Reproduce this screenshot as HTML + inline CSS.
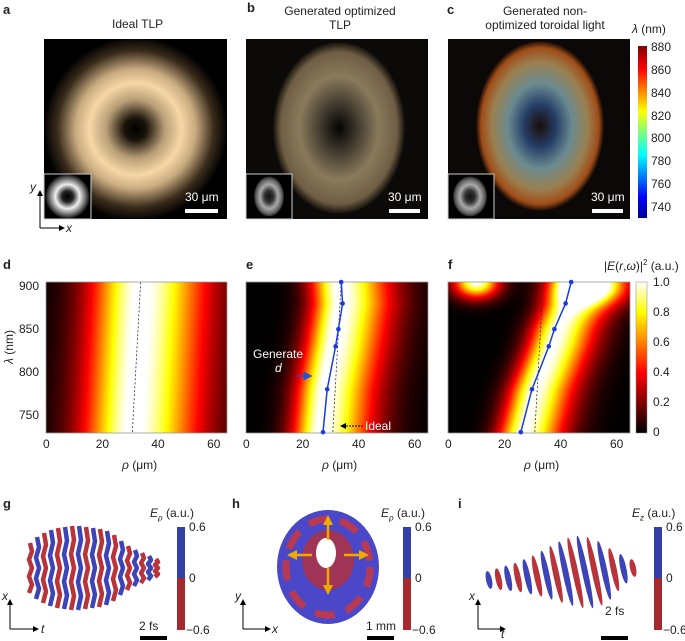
<!DOCTYPE html>
<html><head><meta charset="utf-8">
<style>
body{margin:0;background:#fff;}
#root{position:relative;width:685px;height:641px;overflow:hidden;font-family:"Liberation Sans",sans-serif;color:#222;}
.t{position:absolute;font-size:12px;white-space:nowrap;}
.pl{position:absolute;font-size:13px;font-weight:bold;}
canvas{position:absolute;}
</style></head><body>
<div id="root">
<svg width="685" height="641" style="position:absolute;left:0;top:0">
<defs>
<radialGradient id="ga" cx="135.5" cy="129" r="92" gradientUnits="userSpaceOnUse">
<stop offset="0" stop-color="#000"/><stop offset="0.12" stop-color="#1a1309"/><stop offset="0.32" stop-color="#b99f77"/><stop offset="0.5" stop-color="#f6d7a6"/><stop offset="0.65" stop-color="#c9ab80"/><stop offset="0.85" stop-color="#3a2c1b"/><stop offset="1" stop-color="#000"/></radialGradient>
<radialGradient id="gb"><stop offset="0" stop-color="#050403"/><stop offset="0.25" stop-color="#3a342a"/><stop offset="0.6" stop-color="#8a7a5c"/><stop offset="0.88" stop-color="#6f5e44"/><stop offset="1" stop-color="#120f0a"/></radialGradient>
<radialGradient id="gc"><stop offset="0" stop-color="#1a0d08"/><stop offset="0.25" stop-color="#253d66"/><stop offset="0.5" stop-color="#6a8a90"/><stop offset="0.75" stop-color="#9a8050"/><stop offset="0.92" stop-color="#a04c18"/><stop offset="1" stop-color="#150b05"/></radialGradient>
<radialGradient id="gi"><stop offset="0" stop-color="#000"/><stop offset="0.25" stop-color="#222"/><stop offset="0.55" stop-color="#eee"/><stop offset="0.8" stop-color="#777"/><stop offset="1" stop-color="#111"/></radialGradient>
<radialGradient id="gi2"><stop offset="0" stop-color="#111"/><stop offset="0.3" stop-color="#333"/><stop offset="0.6" stop-color="#aaa"/><stop offset="0.85" stop-color="#666"/><stop offset="1" stop-color="#222"/></radialGradient>
<linearGradient id="jet" x1="0" y1="1" x2="0" y2="0">
<stop offset="0" stop-color="#00008f"/><stop offset="0.12" stop-color="#0000ff"/><stop offset="0.37" stop-color="#00ffff"/><stop offset="0.5" stop-color="#7fff7f"/><stop offset="0.62" stop-color="#ffff00"/><stop offset="0.87" stop-color="#ff0000"/><stop offset="1" stop-color="#800000"/></linearGradient>
<linearGradient id="hot" x1="0" y1="1" x2="0" y2="0">
<stop offset="0" stop-color="#000"/><stop offset="0.4" stop-color="#ff0000"/><stop offset="0.8" stop-color="#ffff00"/><stop offset="1" stop-color="#fff"/></linearGradient>
<marker id="arr" markerWidth="6" markerHeight="6" refX="5" refY="3" orient="auto"><path d="M0,0 L6,3 L0,6 z" fill="#000"/></marker>
<marker id="arrb" markerWidth="6" markerHeight="6" refX="5" refY="3" orient="auto"><path d="M0,0 L6,3 L0,6 z" fill="#2a4fd0"/></marker>
<marker id="arry" markerWidth="4" markerHeight="4" refX="2" refY="2" orient="auto"><path d="M0,0 L4,2 L0,4 z" fill="#f2a900"/></marker>
</defs>
<rect x="44" y="39" width="183" height="180" fill="url(#ga)"/>
<rect x="44" y="174" width="47" height="45" fill="#000" stroke="#ccc"/>
<ellipse cx="67.5" cy="196.5" rx="22" ry="22" fill="url(#gi)"/>
<rect x="185" y="209" width="33" height="4" fill="#fff"/>
<line x1="40" y1="228" x2="40" y2="191" stroke="#000" marker-end="url(#arr)"/>
<line x1="40" y1="228" x2="64" y2="228" stroke="#000" marker-end="url(#arr)"/>
<rect x="246" y="39" width="182" height="180" fill="#0b0a08"/>
<ellipse cx="339" cy="128" rx="66" ry="86" fill="url(#gb)"/>
<rect x="246" y="174" width="46" height="45" fill="#000" stroke="#ccc"/>
<ellipse cx="269" cy="196.5" rx="15" ry="20" fill="url(#gi2)"/>
<rect x="389" y="209" width="31" height="4" fill="#fff"/>
<rect x="448" y="39" width="182" height="180" fill="#0b0807"/>
<ellipse cx="540" cy="126" rx="64" ry="85" fill="url(#gc)"/>
<rect x="448" y="174" width="46" height="45" fill="#000" stroke="#ccc"/>
<ellipse cx="470" cy="196.5" rx="17" ry="20" fill="url(#gi2)"/>
<rect x="592" y="209" width="31" height="4" fill="#fff"/>
<rect x="638" y="46" width="9" height="172" fill="url(#jet)"/>
<rect x="636" y="282" width="11" height="151" fill="url(#hot)" stroke="#888" stroke-width="0.5"/>
<g id="gpanel"></g>
<g id="ipanel"></g>
<g>
<ellipse cx="328" cy="567" rx="51" ry="57" fill="#4a48c8"/>
<ellipse cx="328" cy="567" rx="42" ry="48" fill="none" stroke="#b83a52" stroke-width="7" stroke-dasharray="20 12"/>
<ellipse cx="328" cy="560" rx="26" ry="30" fill="#a8324a" opacity="0.9"/>
<ellipse cx="326" cy="553" rx="10" ry="15" fill="#fff"/>
<line x1="328" y1="540" x2="328" y2="520" stroke="#f2a900" stroke-width="2.5" marker-end="url(#arry)"/>
<line x1="328" y1="568" x2="328" y2="590" stroke="#f2a900" stroke-width="2.5" marker-end="url(#arry)"/>
<line x1="312" y1="555" x2="292" y2="555" stroke="#f2a900" stroke-width="2.5" marker-end="url(#arry)"/>
<line x1="344" y1="555" x2="364" y2="555" stroke="#f2a900" stroke-width="2.5" marker-end="url(#arry)"/>
</g>
<g>
<rect x="177" y="527" width="8" height="51" fill="#3340a8"/><rect x="177" y="578" width="8" height="52" fill="#a52a30"/>
<rect x="403" y="527" width="8" height="51" fill="#3340a8"/><rect x="403" y="578" width="8" height="52" fill="#a52a30"/>
<rect x="654" y="527" width="8" height="51" fill="#3340a8"/><rect x="654" y="578" width="8" height="52" fill="#a52a30"/>
</g>
<rect x="140" y="636" width="27" height="4" fill="#000"/>
<rect x="367" y="636" width="27" height="4" fill="#000"/>
<rect x="601" y="636" width="27" height="4" fill="#000"/>
<line x1="10" y1="629" x2="10" y2="600" stroke="#000" marker-end="url(#arr)"/><line x1="10" y1="629" x2="38" y2="629" stroke="#000" marker-end="url(#arr)"/>
<line x1="243" y1="629" x2="243" y2="600" stroke="#000" marker-end="url(#arr)"/><line x1="243" y1="629" x2="270" y2="629" stroke="#000" marker-end="url(#arr)"/>
<line x1="478" y1="629" x2="478" y2="600" stroke="#000" marker-end="url(#arr)"/><line x1="478" y1="629" x2="505" y2="629" stroke="#000" marker-end="url(#arr)"/>
</svg>
<canvas id="cd" width="181" height="151" style="left:46px;top:282px"></canvas>
<canvas id="ce" width="182" height="151" style="left:246px;top:282px"></canvas>
<canvas id="cf" width="182" height="151" style="left:448px;top:282px"></canvas>
<svg id="ov" width="685" height="641" style="position:absolute;left:0;top:0"></svg>

<div class="pl" style="left:3px;top:2px">a</div>
<div class="pl" style="left:247px;top:0px">b</div>
<div class="pl" style="left:447px;top:2px">c</div>
<div class="t" style="left:112px;top:17px">Ideal TLP</div>
<div class="t" style="left:280px;top:4px;text-align:center;width:120px">Generated optimized<br>TLP</div>
<div class="t" style="left:475px;top:4px;text-align:center;width:140px">Generated non-<br>optimized toroidal light</div>
<div class="t" style="left:632px;top:22px"><i>λ</i> (nm)</div>
<div class="t" style="left:185px;top:190px;color:#fff">30 μm</div>
<div class="t" style="left:388px;top:190px;color:#fff">30 μm</div>
<div class="t" style="left:591px;top:190px;color:#fff">30 μm</div>
<div class="t" style="left:30px;top:180px;font-style:italic">y</div>
<div class="t" style="left:66px;top:221px;font-style:italic">x</div>

<div class="pl" style="left:3px;top:257px">d</div>
<div class="pl" style="left:246px;top:257px">e</div>
<div class="pl" style="left:448px;top:257px">f</div>
<div class="t" style="left:604px;top:258px">|<i>E</i>(<i>r</i>,<i>ω</i>)|<sup style="font-size:8px">2</sup> (a.u.)</div>
<div class="t" style="left:-8px;top:340px;transform:rotate(-90deg)"><i>λ</i> (nm)</div>
<div class="t" style="left:122px;top:458px"><i>ρ</i> (μm)</div>
<div class="t" style="left:322px;top:458px"><i>ρ</i> (μm)</div>
<div class="t" style="left:524px;top:458px"><i>ρ</i> (μm)</div>
<div class="t" style="left:253px;top:347px;color:#fff">Generate<br><i style="margin-left:22px">d</i></div>
<div class="t" style="left:365px;top:419px;color:#fff">Ideal</div>

<div class="pl" style="left:3px;top:496px">g</div>
<div class="pl" style="left:232px;top:496px">h</div>
<div class="pl" style="left:458px;top:496px">i</div>
<div class="t" style="left:150px;top:506px"><i>E<sub style="font-size:8px">ρ</sub></i> (a.u.)</div>
<div class="t" style="left:381px;top:506px"><i>E<sub style="font-size:8px">ρ</sub></i> (a.u.)</div>
<div class="t" style="left:632px;top:506px"><i>E<sub style="font-size:8px">z</sub></i> (a.u.)</div>
<div class="t" style="left:189px;top:520px">0.6</div>
<div class="t" style="left:189px;top:571px">0</div>
<div class="t" style="left:186px;top:623px">−0.6</div>
<div class="t" style="left:415px;top:520px">0.6</div>
<div class="t" style="left:415px;top:571px">0</div>
<div class="t" style="left:412px;top:623px">−0.6</div>
<div class="t" style="left:666px;top:520px">0.6</div>
<div class="t" style="left:666px;top:571px">0</div>
<div class="t" style="left:663px;top:623px">−0.6</div>
<div class="t" style="left:139px;top:619px">2 fs</div>
<div class="t" style="left:366px;top:619px">1 mm</div>
<div class="t" style="left:605px;top:604px">2 fs</div>
<div class="t" style="left:2px;top:589px;font-style:italic">x</div>
<div class="t" style="left:41px;top:622px;font-style:italic">t</div>
<div class="t" style="left:235px;top:589px;font-style:italic">y</div>
<div class="t" style="left:272px;top:622px;font-style:italic">x</div>
<div class="t" style="left:469px;top:589px;font-style:italic">x</div>
<div class="t" style="left:501px;top:627px;font-style:italic">t</div>
</div>
<script>
const lambdaTicks=[880,860,840,820,800,780,760,740];
const xTicks=[0,20,40,60];
const yTicks=[900,850,800,750];
const cTicks=[0,0.2,0.4,0.6,0.8,1.0];
const genLambda=[905,880,850,830,780,730];
const genRhoE=[34,34.5,33,32,29,27.5];
const genRhoF=[44,42,38,36,30,26];
const idealLambda=[730,905];
const idealRho=[31,34];
const gHeights=[50,62,70,76,80,82,84,84,82,80,78,74,66,54,44,36,30,24,18];
const iHeights=[18,22,26,30,36,42,50,58,66,72,74,70,60,44,30,18];

const X0=0,X1=65,Y0=729,Y1=905;
const panels=[{l:46,w:181},{l:246,w:182},{l:448,w:182}];
function sx(p,v){return panels[p].l+(v-X0)/(X1-X0)*panels[p].w;}
function sy(v){return 282+(Y1-v)/(Y1-Y0)*151;}
const root=document.getElementById('root');
function txt(x,y,s,name){const d=document.createElement('div');d.className='t';d.style.left=x+'px';d.style.top=y+'px';d.textContent=s;


root.appendChild(d);}
lambdaTicks.forEach(v=>{const y=47+(880-v)/140*160;txt(651,y-7,String(v),'lambda-tick');});
cTicks.forEach(v=>{const y=432-v*150;txt(653,y-7,v.toFixed(v===0?0:1),'colorbar-tick');});
for(let p=0;p<3;p++){xTicks.forEach(v=>{const x=sx(p,v);txt(x-(v?6:3),437,String(v),'x-tick');});}
yTicks.forEach(v=>txt(19,sy(v)-7,String(v),'y-tick'));

function hot(t){t=Math.max(0,Math.min(1,t));return [255*Math.min(1,t/0.4),255*Math.max(0,Math.min(1,(t-0.4)/0.4)),255*Math.max(0,(t-0.8)/0.2)];}
function interp(arrL,arrR,l){for(let i=0;i<arrL.length-1;i++){const a=arrL[i],b=arrL[i+1];if((l<=a&&l>=b)){return arrR[i]+(arrR[i+1]-arrR[i])*(l-a)/(b-a);}}return l>arrL[0]?arrR[0]:arrR[arrR.length-1];}
function draw(id,f){const c=document.getElementById(id),ctx=c.getContext('2d'),im=ctx.createImageData(c.width,c.height);
for(let j=0;j<c.height;j++){const lam=Y1-j/(c.height)*(Y1-Y0);for(let i=0;i<c.width;i++){const r=X0+i/c.width*(X1-X0);const v=f(r,lam);const col=hot(v);const k=(j*c.width+i)*4;im.data[k]=col[0];im.data[k+1]=col[1];im.data[k+2]=col[2];im.data[k+3]=255;}}ctx.putImageData(im,0,0);}
draw('cd',(r,l)=>{const c=interp(idealLambda.slice().reverse(),idealRho.slice().reverse(),l);return Math.exp(-Math.pow((r-c)/(r<c?18:24),2))*1.02;});
draw('ce',(r,l)=>{const c=interp(genLambda,genRhoE,l)-1;return Math.exp(-Math.pow((r-c)/(r<c?10:18),2))*1.02;});
draw('cf',(r,l)=>{const c=interp(genLambda,genRhoF,l)+1;let v=Math.exp(-Math.pow((r-c)/(r<c?9:14),2));
v+=Math.exp(-Math.pow((r-10)/8,2)-Math.pow((l-905)/18,2));v+=0.7*Math.exp(-Math.pow((r-52)/12,2)-Math.pow((l-900)/20,2));return v;});

const ov=document.getElementById('ov');const NS='http://www.w3.org/2000/svg';
function el(t,a,name){const e=document.createElementNS(NS,t);for(const k in a)e.setAttribute(k,a[k]);


ov.appendChild(e);return e;}
for(let p=0;p<3;p++){el('line',{x1:sx(p,idealRho[0]),y1:sy(idealLambda[0]),x2:sx(p,idealRho[1]),y2:sy(idealLambda[1]),stroke:'#333','stroke-width':0.8,'stroke-dasharray':'2,2'},'ideal-line');
el('rect',{x:panels[p].l,y:282,width:panels[p].w,height:151,fill:'none',stroke:'#999','stroke-width':0.8},'plot-frame');}
[[1,genRhoE],[2,genRhoF]].forEach(([p,arr])=>{
el('polyline',{points:arr.map((r,i)=>sx(p,r)+','+sy(genLambda[i])).join(' '),fill:'none',stroke:'#1a3be0','stroke-width':1.5},'generated-line');
arr.forEach((r,i)=>el('circle',{cx:sx(p,r),cy:sy(genLambda[i]),r:2.3,fill:'#1a3be0'},'generated-point'));});
el('line',{x1:297,y1:376,x2:311,y2:376,stroke:'#2a4fd0','stroke-width':1.5,'marker-end':'url(#arrb)'},'generated-arrow');
el('line',{x1:363,y1:426,x2:341,y2:426,stroke:'#000','stroke-width':1,'stroke-dasharray':'2,1','marker-end':'url(#arr)'},'ideal-arrow');

const g=document.getElementById('gpanel');
gHeights.forEach((h,i)=>{const x=30+i*7;const y0=568-h/2;let d=`M${x},${y0}`;
for(let k=1;k<=6;k++){d+=` L${x+(k%2?2:-1)},${y0+h*k/6}`;}
const e=document.createElementNS(NS,'path');
e.setAttribute('d',d);
e.setAttribute('fill','none');
e.setAttribute('stroke',i%2?'#3c44b8':'#b8343a');
e.setAttribute('stroke-width',4.5);
e.setAttribute('stroke-linejoin','round');


g.appendChild(e);});
const ig=document.getElementById('ipanel');
iHeights.forEach((h,i)=>{const x=489+i*9.6;const e=document.createElementNS(NS,'ellipse');
e.setAttribute('cx',x);e.setAttribute('cy',580-i*0.8);e.setAttribute('rx',3);e.setAttribute('ry',h/2);
e.setAttribute('transform',`rotate(-12 ${x} ${580-i*0.8})`);
e.setAttribute('fill',i%2?'#b8343a':'#3c44b8');


ig.appendChild(e);});
</script>
</body></html>
